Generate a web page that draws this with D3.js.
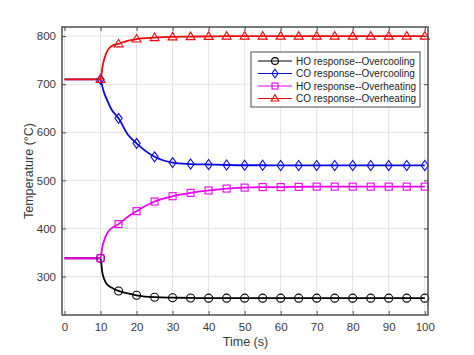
<!DOCTYPE html>
<html><head><meta charset="utf-8">
<script src="https://cdn.jsdelivr.net/npm/d3@7"></script>
<style>
html,body{margin:0;padding:0;background:#fff;}
svg{display:block;font-family:"Liberation Sans",Arial,sans-serif;}
</style></head>
<body>
<svg id="chart" width="474" height="355"></svg>
<script>
// ---- data ----
const time = [0, 5, 10, 10.5, 11, 12, 13, 15, 17.5, 20, 25, 30, 35, 40, 45, 50, 55, 60, 65, 70, 75, 80, 85, 90, 95, 100];
const hoOvercooling = [338, 338, 338, 308, 295, 282, 277, 270, 265, 261, 257, 256, 255.5, 255, 255, 255, 255, 255, 255, 255, 255, 255, 255, 255, 255, 255];
const coOvercooling = [710, 710, 710, 695, 682, 664, 648, 629, 596, 577, 549, 537, 534, 533, 532, 531.5, 531.5, 531, 531, 531, 531, 531, 531, 531, 531, 531];
const hoOverheating = [338, 338, 338, 362, 375, 392, 400, 409, 424, 436, 456, 467, 474, 479, 483, 485, 486, 486, 486.5, 487, 487, 487, 487, 487, 487, 487];
const coOverheating = [710, 710, 710, 735, 752, 771, 779, 784, 790, 794, 797, 798.5, 799, 799.5, 800, 800, 800, 800, 800, 800, 800, 800, 800, 800, 800, 800];
const seriesNames = ["HO response--Overcooling", "CO response--Overcooling", "HO response--Overheating", "CO response--Overheating"];
const xTicks = [0, 10, 20, 30, 40, 50, 60, 70, 80, 90, 100];
const yTicks = [300, 400, 500, 600, 700, 800];

const series = [
  {name: seriesNames[0], values: hoOvercooling, color: "#000000", marker: "circle"},
  {name: seriesNames[1], values: coOvercooling, color: "#0a0ae0", marker: "diamond"},
  {name: seriesNames[2], values: hoOverheating, color: "#ee00ee", marker: "square"},
  {name: seriesNames[3], values: coOverheating, color: "#ee0a0a", marker: "triangle"}
];

// ---- layout ----
const L = 62, R = 428, T = 27, B = 315;
const svg = d3.select("#chart");
const x = d3.scaleLinear().domain([-0.7, 100.9]).range([L, R]);
const y = d3.scaleLinear().domain([220, 819]).range([B, T]);

const axisColor = "#4d4d4d", textColor = "#3a3a3a", gridColor = "#e3e3e3";

// grid
svg.append("g").selectAll("line.gx").data(xTicks).join("line")
  .attr("x1", d => x(d)).attr("x2", d => x(d)).attr("y1", T).attr("y2", B)
  .attr("stroke", gridColor).attr("stroke-width", 1);
svg.append("g").selectAll("line.gy").data(yTicks).join("line")
  .attr("x1", L).attr("x2", R).attr("y1", d => y(d)).attr("y2", d => y(d))
  .attr("stroke", gridColor).attr("stroke-width", 1);

// axes via d3 axis (ticks inward)
const fontSize = "11.5px";
const xAxis = svg.append("g").attr("transform", `translate(0,${B})`)
  .call(d3.axisBottom(x).tickValues(xTicks).tickSize(-4).tickPadding(8));
const xAxisTop = svg.append("g").attr("transform", `translate(0,${T})`)
  .call(d3.axisTop(x).tickValues(xTicks).tickSize(-4).tickFormat(""));
const yAxis = svg.append("g").attr("transform", `translate(${L},0)`)
  .call(d3.axisLeft(y).tickValues(yTicks).tickSize(-4).tickPadding(6));
const yAxisR = svg.append("g").attr("transform", `translate(${R},0)`)
  .call(d3.axisRight(y).tickValues(yTicks).tickSize(-4).tickFormat(""));
[xAxis, xAxisTop, yAxis, yAxisR].forEach(g => {
  g.select(".domain").remove();
  g.selectAll(".tick line").attr("stroke", axisColor).attr("stroke-width", 1);
  g.selectAll(".tick text").attr("fill", textColor).style("font-size", fontSize)
   .style("font-family", "'Liberation Sans', Arial, sans-serif");
});

// lines
const line = d3.line().x((d, i) => x(time[i])).y(d => y(d)).curve(d3.curveMonotoneX);
const plot = svg.append("g");
series.forEach(s => {
  plot.append("path").attr("d", line(s.values)).attr("fill", "none")
    .attr("stroke", s.color).attr("stroke-width", 1.8);
});

// markers
function drawMarker(g, type, cx, cy, color, k) {
  k = k || 1;
  if (type === "circle") {
    g.append("circle").attr("cx", cx).attr("cy", cy).attr("r", 4 * k)
      .attr("fill", "none").attr("stroke", color).attr("stroke-width", 1.1);
  } else if (type === "diamond") {
    g.append("path").attr("d", `M${cx},${cy-5*k}L${cx+3.6*k},${cy}L${cx},${cy+5*k}L${cx-3.6*k},${cy}Z`)
      .attr("fill", "none").attr("stroke", color).attr("stroke-width", 1.1);
  } else if (type === "square") {
    g.append("rect").attr("x", cx-3.5*k).attr("y", cy-3.5*k).attr("width", 7*k).attr("height", 7*k)
      .attr("fill", "none").attr("stroke", color).attr("stroke-width", 1.1);
  } else {
    g.append("path").attr("d", `M${cx},${cy-4.5*k}L${cx+4.5*k},${cy+3*k}L${cx-4.5*k},${cy+3*k}Z`)
      .attr("fill", "none").attr("stroke", color).attr("stroke-width", 1.1);
  }
}
series.forEach(s => {
  s.values.forEach((v, i) => {
    const t = time[i];
    if (t >= 10 && t % 5 === 0) drawMarker(plot, s.marker, x(t), y(v), s.color);
  });
});

// box
svg.append("rect").attr("x", L).attr("y", T).attr("width", R - L).attr("height", B - T)
  .attr("fill", "none").attr("stroke", axisColor).attr("stroke-width", 1.5);

// axis labels
svg.append("text").attr("x", (L + R) / 2 + 0.5).attr("y", 346)
  .attr("text-anchor", "middle").attr("fill", textColor).style("font-size", "12.5px")
  .text("Time (s)");
svg.append("text").attr("transform", `translate(32.5,${(T + B) / 2}) rotate(-90)`)
  .attr("text-anchor", "middle").attr("fill", textColor).style("font-size", "12.5px")
  .text("Temperature (°C)");

// legend
const lg = svg.append("g");
const lx = 251, ly = 52, lw = 169, lh = 55;
lg.append("rect").attr("x", lx).attr("y", ly).attr("width", lw).attr("height", lh)
  .attr("fill", "#fff").attr("stroke", axisColor).attr("stroke-width", 1);
const rowYs = [61, 73.5, 86, 98.5];
series.forEach((s, i) => {
  const ry = rowYs[i];
  lg.append("line").attr("x1", 258).attr("x2", 292).attr("y1", ry).attr("y2", ry)
    .attr("stroke", s.color).attr("stroke-width", 1);
  drawMarker(lg, s.marker, 275, ry, s.color, 0.85);
  lg.append("text").attr("x", 296).attr("y", ry).attr("dy", "0.35em")
    .attr("fill", "#222").style("font-size", "10px").text(s.name);
});
</script>
</body></html>
